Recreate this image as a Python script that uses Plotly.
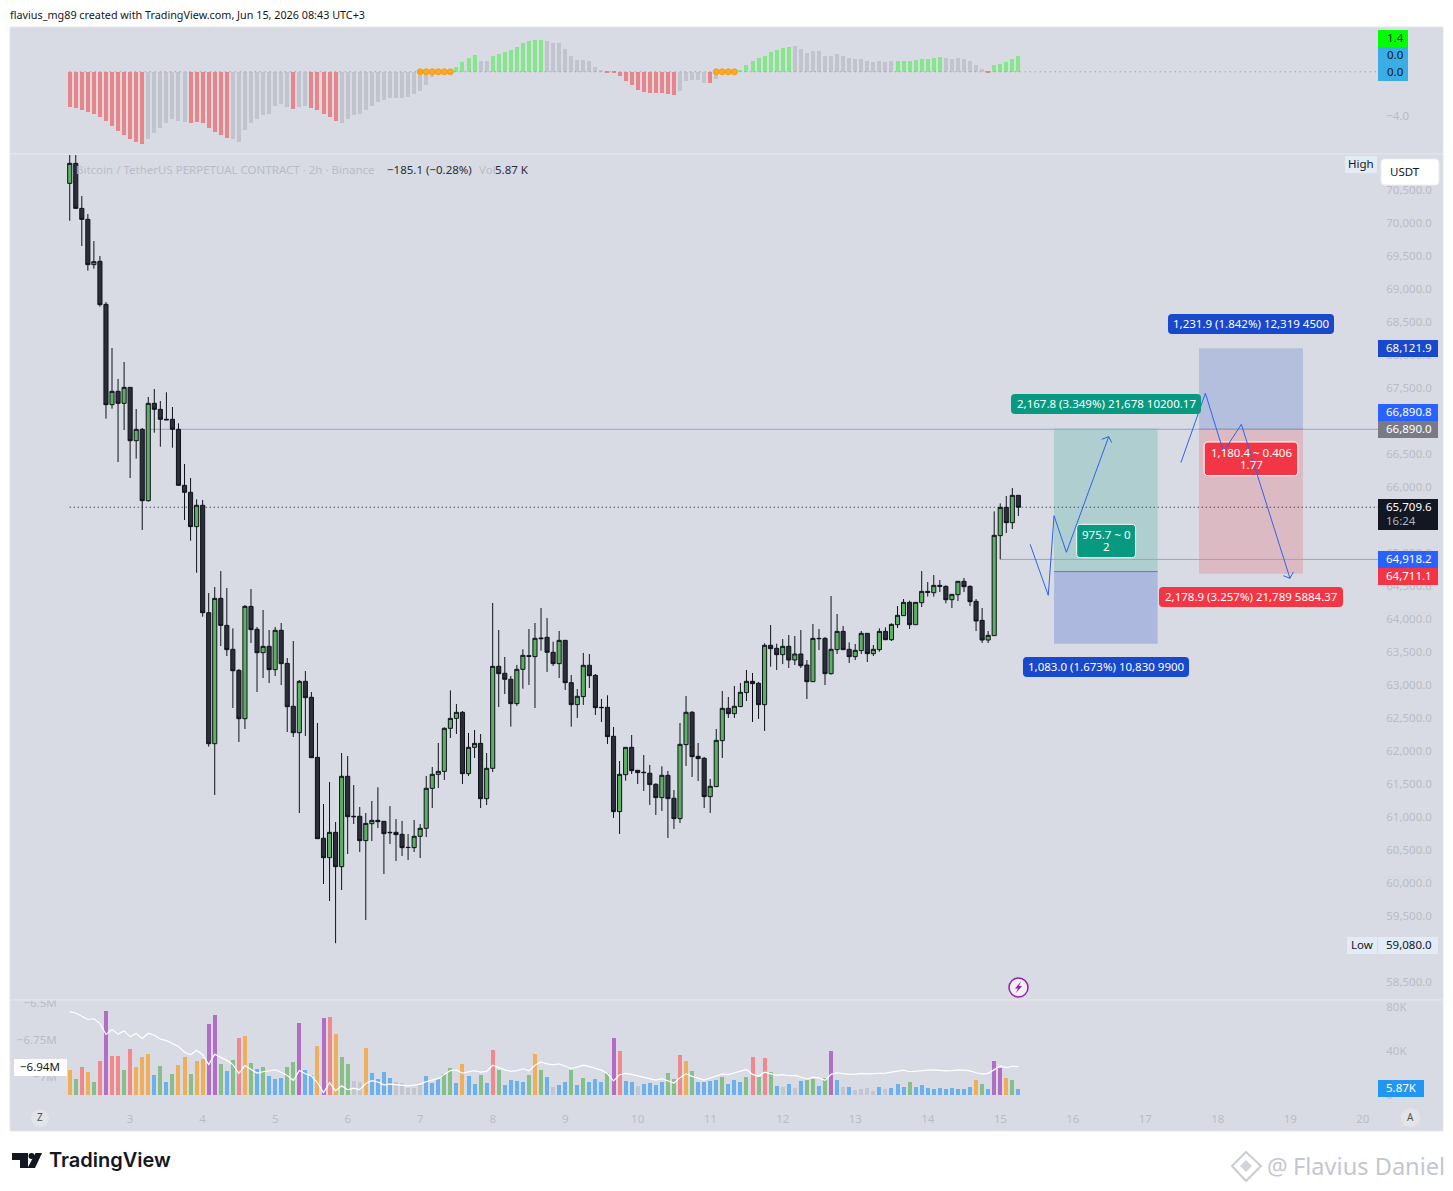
# -*- coding: utf-8 -*-
# --------------------------------------------------------------- #
#### Importing Libraries ####
# --------------------------------------------------------------- #
import pandas as pd
import plotly.graph_objects as go

# --------------------------------------------------------------- #
#### Chart values ####
# --------------------------------------------------------------- #
opens = [70593, 70896, 70214, 70048, 69361, 69412, 68760, 67240, 67442, 67260,
         67502, 66694, 66866, 65785, 67260, 67169, 67018, 67018, 66866, 66018,
         65912, 65392, 65715, 64088, 62103, 64305, 63896, 63533, 63214, 62482,
         64184, 63836, 63482, 63578, 63225, 63821, 63320, 62670, 62270, 63048,
         62806, 61896, 60670, 60376, 60760, 60240, 61609, 61003, 61003, 60634,
         60891, 60942, 60927, 60760, 60760, 60730, 60533, 60528, 60700, 60821,
         61427, 61639, 61684, 62336, 62487, 62578, 61649, 62048, 62108, 61270,
         61730, 63275, 63170, 63079, 62710, 63230, 63437, 63422, 63705, 63715,
         63488, 63316, 63669, 63028, 62695, 62816, 63291, 63139, 62654, 62654,
         62215, 61074, 61634, 62048, 61700, 61670, 61655, 61488, 61286, 61624,
         61276, 60968, 62089, 62579, 61912, 61882, 61301, 61453, 62149, 62639,
         62558, 62665, 62877, 63048, 63018, 62695, 63594, 63548, 63452, 63578,
         63371, 63462, 63295, 63043, 63699, 63699, 63164, 63528, 63805, 63533,
         63422, 63513, 63775, 63467, 63528, 63805, 63679, 63906, 64043, 64245,
         63906, 64240, 64411, 64391, 64502, 64487, 64285, 64361, 64563, 64487,
         64260, 63972, 63674, 63740, 65255, 65684, 65452, 65866]
closes = [70896, 70214, 70048, 69361, 69406, 68755, 67240, 67442, 67260, 67502,
          66694, 66866, 65785, 67260, 67169, 67018, 67010, 66866, 66018, 65912,
          65392, 65715, 64088, 62103, 64305, 63896, 63528, 63209, 62482, 64184,
          63831, 63482, 63578, 63225, 63821, 63316, 62664, 62270, 63048, 62800,
          61891, 60664, 60376, 60760, 60240, 61609, 60997, 60997, 60634, 60896,
          60942, 60922, 60740, 60755, 60725, 60528, 60530, 60700, 60821, 61427,
          61639, 61684, 62336, 62487, 62578, 61649, 62048, 62108, 61270, 61730,
          63275, 63164, 63079, 62710, 63230, 63442, 63427, 63700, 63695, 63488,
          63316, 63669, 63028, 62695, 62821, 63291, 63134, 62649, 62650, 62210,
          61074, 61639, 62048, 61695, 61665, 61665, 61483, 61286, 61624, 61271,
          60968, 62094, 62579, 61907, 61877, 61301, 61458, 62154, 62639, 62558,
          62670, 62882, 63048, 63013, 62695, 63594, 63543, 63452, 63578, 63371,
          63462, 63285, 63043, 63699, 63695, 63164, 63533, 63805, 63528, 63422,
          63518, 63775, 63467, 63533, 63805, 63679, 63911, 64048, 64245, 63906,
          64245, 64411, 64396, 64502, 64487, 64285, 64366, 64563, 64482, 64255,
          63962, 63674, 63745, 65260, 65684, 65452, 65866, 65686]
highs = [71200, 71200, 70401, 70128, 69719, 69492, 68795, 68098, 67629, 67886,
         67502, 67174, 66886, 67356, 67477, 67295, 67427, 67204, 66957, 66341,
         66129, 65806, 65796, 64386, 64477, 64719, 64462, 63851, 63235, 64204,
         64447, 63871, 64129, 63826, 63871, 63932, 63401, 63659, 63068, 63204,
         62886, 62417, 61189, 61523, 60917, 61962, 61917, 61477, 61144, 61053,
         61235, 61442, 60927, 61159, 60962, 60932, 60735, 60947, 60886, 61614,
         61750, 62114, 62351, 62911, 62704, 62598, 62265, 62310, 62250, 61962,
         64235, 63826, 63417, 63129, 63296, 63533, 63841, 63932, 64159, 64008,
         63649, 63811, 63669, 63144, 62932, 63478, 63462, 63159, 62781, 62836,
         62356, 61841, 62048, 62235, 61700, 61932, 61781, 61503, 61761, 61690,
         61402, 62417, 62826, 62599, 62114, 61902, 61569, 62326, 62902, 62811,
         62978, 63023, 63220, 63175, 63038, 63624, 63901, 63618, 63689, 63750,
         63735, 63826, 63371, 63916, 63841, 63719, 64341, 64068, 63886, 63639,
         63614, 63810, 63775, 63598, 63851, 63866, 63926, 64189, 64295, 64270,
         64245, 64719, 64553, 64659, 64583, 64502, 64366, 64563, 64613, 64502,
         64295, 64159, 63810, 65623, 65744, 65856, 65977, 65866]
lows = [70027, 70214, 69644, 69270, 69300, 68725, 67028, 67179, 66371, 66856,
        66129, 66422, 65341, 65770, 66816, 66603, 67010, 66588, 66018, 65492,
        65179, 64694, 64028, 62058, 61326, 63583, 63432, 62644, 62129, 62326,
        63629, 62886, 63098, 63023, 63129, 62992, 62280, 62205, 61053, 62220,
        61891, 60664, 59977, 59720, 59080, 59886, 60432, 60886, 60462, 59432,
        60629, 60826, 60129, 60583, 60326, 60402, 60341, 60462, 60371, 60689,
        61129, 61432, 61553, 62189, 62250, 61492, 61614, 61886, 61129, 61174,
        61674, 62659, 62856, 62362, 62675, 62937, 62993, 62644, 63513, 63190,
        63281, 63099, 62917, 62362, 62493, 62690, 62947, 62538, 62432, 62099,
        60978, 60735, 61543, 61644, 61493, 61387, 61175, 61023, 61084, 60675,
        60811, 60902, 61766, 61599, 61538, 61129, 61054, 61450, 61887, 62493,
        62493, 62660, 62750, 62432, 62478, 62296, 63270, 63220, 63310, 63250,
        63295, 63250, 62780, 63040, 63522, 62992, 63149, 63462, 63528, 63326,
        63371, 63462, 63341, 63432, 63497, 63679, 63659, 63856, 64040, 63841,
        63906, 64174, 64331, 64331, 64401, 64230, 64159, 64265, 64401, 64189,
        63810, 63629, 63629, 63738, 64896, 65295, 65356, 65553]

# squeeze momentum histogram and its colour class per bar
momentum = [-3.18, -3.27, -3.45, -3.64, -3.82, -4.09, -4.45, -4.91, -5.36, -5.73,
            -6.09, -6.36, -6.55, -6.09, -5.55, -5.09, -4.64, -4.27, -4.45, -4.55,
            -4.64, -4.55, -4.64, -5.09, -5.45, -5.73, -6.00, -6.09, -6.36, -5.27,
            -4.64, -4.27, -3.91, -3.82, -3.09, -2.91, -3.18, -3.36, -3.18, -3.09,
            -3.27, -3.45, -3.82, -4.09, -4.45, -4.64, -4.27, -3.91, -3.82, -3.45,
            -3.09, -2.73, -2.55, -2.36, -2.36, -2.36, -2.27, -2.00, -1.73, -1.18,
            -0.45, 0.05, 0.08, 0.12, 0.45, 0.91, 1.27, 1.55, 1.00, 1.00,
            1.45, 1.64, 1.82, 2.00, 2.27, 2.64, 2.82, 2.91, 2.91, 2.82,
            2.64, 2.58, 2.03, 1.39, 1.03, 1.03, 0.94, 0.48, 0.12, -0.06,
            -0.06, -0.42, -0.88, -1.24, -1.61, -1.88, -1.97, -1.97, -1.97, -2.06,
            -2.15, -1.70, -0.88, -0.79, -0.79, -1.06, -1.06, -0.70, 0.05, 0.05,
            0.08, 0.12, 0.58, 0.94, 1.21, 1.48, 1.76, 1.94, 2.12, 2.21,
            2.30, 2.03, 1.67, 1.85, 1.85, 1.48, 1.48, 1.58, 1.39, 1.21,
            1.12, 1.12, 0.94, 0.85, 0.94, 0.85, 0.94, 0.94, 0.94, 0.94,
            1.03, 1.12, 1.12, 1.21, 1.30, 1.21, 1.12, 1.21, 1.12, 0.94,
            0.58, 0.21, -0.06, 0.58, 0.67, 0.85, 1.12, 1.48]
momentum_kind = ("rrrrrrrrrr" "rrrxxxxxxx" "rrrrrrrxxx" "xxxxxxxrxx" "rrrrrxxxxx"
                 "xxxxxxxxxx" "xgggggggxx" "gggggggggx" "xxxxxxxxxr" "rrrrrrrrrr"
                 "rxxxxxrxgg" "gggggggggg" "xxxxxxxxxx" "xxxxxxxggg" "gggggxxxxx"
                 "xxrggggg")
squeeze_bars = [58, 59, 60, 61, 62, 63, 107, 108, 109, 110]

# volume in thousands and its colour class per bar
volume = [22.7, 14.5, 25.5, 20.9, 11.8, 30.9, 76.4, 35.5, 35.5, 22.7,
          41.8, 25.5, 34.5, 37.3, 18.2, 26.4, 11.8, 19.1, 27.3, 34.5,
          19.1, 30.9, 32.7, 64.5, 72.7, 28.2, 21.8, 31.8, 51.8, 53.6,
          29.1, 23.6, 25.5, 17.3, 14.5, 15.5, 25.5, 30.0, 65.4, 22.7,
          18.2, 44.5, 70.0, 70.9, 55.4, 34.5, 28.2, 12.7, 11.8, 42.7,
          20.0, 14.5, 20.9, 15.5, 11.8, 10.9, 6.4, 6.4, 9.1, 17.3,
          10.9, 14.5, 19.1, 24.5, 10.9, 28.2, 17.3, 10.0, 18.2, 10.9,
          40.9, 22.7, 9.1, 13.6, 12.7, 11.8, 18.2, 37.3, 22.7, 16.4,
          7.3, 9.1, 11.8, 22.7, 9.1, 15.5, 11.8, 14.5, 11.8, 20.0,
          51.8, 40.0, 12.7, 11.8, 8.2, 10.0, 10.9, 9.1, 11.8, 20.0,
          14.5, 36.4, 30.9, 21.8, 11.8, 11.8, 12.7, 13.6, 16.4, 10.0,
          13.6, 11.8, 16.4, 34.5, 16.4, 33.6, 20.9, 8.2, 7.3, 10.0,
          6.4, 12.7, 13.6, 14.5, 8.2, 15.5, 40.0, 13.6, 7.3, 7.3,
          4.5, 5.5, 6.4, 3.6, 7.3, 5.5, 6.4, 10.0, 7.3, 11.8,
          7.3, 9.1, 6.4, 5.5, 6.4, 5.5, 6.4, 5.5, 5.5, 7.3,
          13.6, 10.0, 5.5, 30.9, 24.5, 15.5, 13.6, 5.87]
volume_kind = ("ogrogrprrg" "rooobgbgoo" "gooppgbgro" "gbgbbbggpb" "boproggxxo"
               "bbbbxxxxxb" "bbggbobbgb" "rgbbbbgogb" "xbbgbgbbbg" "prbbxbbbbg"
               "grogbbbbgb" "bbgrgrgbxb" "xbggbgpbxb" "xxxxbxbbbg" "bbbbbbbbbb"
               "ogbppogb")

# white line of the lower pane, in millions
flow = [-6.558, -6.567, -6.589, -6.611, -6.606, -6.637, -6.712, -6.679, -6.710, -6.688,
        -6.728, -6.706, -6.739, -6.704, -6.717, -6.743, -6.754, -6.772, -6.794, -6.832,
        -6.849, -6.819, -6.849, -6.916, -6.845, -6.867, -6.887, -6.916, -6.975, -6.922,
        -6.949, -6.973, -6.964, -6.960, -6.951, -6.967, -6.989, -7.022, -6.956, -6.978,
        -6.993, -7.037, -7.106, -7.037, -7.093, -7.059, -7.086, -7.075, -7.084, -7.044,
        -7.024, -7.033, -7.053, -7.048, -7.053, -7.059, -7.059, -7.055, -7.048, -7.031,
        -7.022, -7.011, -6.982, -6.956, -6.953, -6.973, -6.964, -6.956, -6.967, -6.962,
        -6.920, -6.938, -6.951, -6.962, -6.956, -6.944, -6.958, -6.920, -6.898, -6.911,
        -6.918, -6.911, -6.925, -6.942, -6.933, -6.920, -6.929, -6.942, -6.953, -6.978,
        -7.026, -6.984, -6.975, -6.982, -6.991, -7.000, -7.011, -7.020, -7.011, -7.026,
        -7.040, -7.004, -6.978, -6.995, -7.009, -7.020, -7.006, -6.993, -6.980, -6.984,
        -6.971, -6.962, -6.949, -6.982, -6.995, -6.967, -6.978, -6.989, -6.984, -6.991,
        -6.989, -7.002, -7.013, -7.000, -7.006, -7.022, -6.982, -6.971, -6.978, -6.982,
        -6.980, -6.975, -6.978, -6.978, -6.973, -6.973, -6.967, -6.958, -6.953, -6.964,
        -6.960, -6.953, -6.953, -6.951, -6.956, -6.958, -6.956, -6.951, -6.953, -6.958,
        -6.971, -6.980, -6.975, -6.947, -6.925, -6.936, -6.927, -6.929]

assert len(opens) == len(closes) == len(highs) == len(lows) == 158
assert len(momentum) == len(momentum_kind) == len(volume) == len(volume_kind) == len(flow) == 158

day_labels = ["3", "4", "5", "6", "7", "8", "9", "10", "11", "12",
              "13", "14", "15", "16", "17", "18", "19", "20"]
day_dates = ["2026-06-%02d" % int(d) for d in day_labels]
price_ticks = [58500, 59000, 59500, 60000, 60500, 61000, 61500, 62000, 62500, 63000, 63500,
               64000, 64500, 65000, 65500, 66000, 66500, 67000, 67500, 68000, 68500,
               69000, 69500, 70000, 70500]
volume_ticks = [0, 40, 80]
volume_tick_text = ["0", "40K", "80K"]
flow_ticks = [-6.5, -6.75, -7]
flow_tick_text = ["\u22126.5M", "\u22126.75M", "\u22127M"]

# levels as they sit against the tick labels of the picture
last_price = 65686
level_upper = 66867
level_lower = 64895

# long and short position tools
long_x = ["2026-06-15 17:48", "2026-06-17 04:06"]
long_top = 66879.0
long_entry = 64711.1
long_bottom = 63617.0
short_x = ["2026-06-17 17:48", "2026-06-19 04:12"]
short_top = 68094.0
short_entry = 66867.0
short_bottom = 64679.0

# stats boxes inside the two tools
long_stats_x = ["2026-06-16 01:18", "2026-06-16 20:48"]
long_stats_y = [64921, 65427]
short_stats_x = ["2026-06-17 19:30", "2026-06-19 02:30"]
short_stats_y = [66164, 66674]

# hand drawn projection paths
path_a_x = ["2026-06-15 09:54", "2026-06-15 15:54", "2026-06-15 17:48", "2026-06-15 21:54", "2026-06-16 11:54"]
path_a_y = [65124, 64351, 65558, 65003, 66755]
head_a_x = ["2026-06-16 09:36", "2026-06-16 11:54", "2026-06-16 12:54"]
head_a_y = [66715, 66755, 66664]
path_b_x = ["2026-06-17 11:48", "2026-06-17 19:54", "2026-06-18 01:54", "2026-06-18 07:48", "2026-06-18 23:54"]
path_b_y = [66361, 67412, 66527, 66942, 64609]
head_b_x = ["2026-06-18 21:42", "2026-06-18 23:54", "2026-06-19 01:00"]
head_b_y = [64649, 64609, 64705]

# --------------------------------------------------------------- #
#### Styles and page helpers ####
# --------------------------------------------------------------- #
W = 1453
H = 1191
FONT = "Noto Sans"
PANEL = "#d8dbe3"
FADED = "#b9bcc6"
SEPARATOR = "#e6e8ec"
UP_FILL = "#5cb064"
DOWN_FILL = "#2a2e39"
WICK = "#10131a"
BLUE_LINE = "#8ea6dc"
ARROW = "#2f62e8"

momentum_colors = {"r": "#e98589", "x": "#c1c4cd", "g": "#84e88a"}
volume_colors = {"p": "#b26ec4", "r": "#f0888c", "o": "#f0ae58",
                 "g": "#86bf88", "b": "#6bb1ee", "x": "#c3c6d0"}

dates = pd.date_range("2026-06-02 04:00", periods=158, freq="2h")
bar_width = 4 / 3.021 * 3600000
x_start = "2026-06-01 08:14"
x_end = "2026-06-20 05:42"

shapes = []
notes = []


def fx(px):
    return px / W


def fy(py):
    return 1 - py / H


def box(x0, y0, x1, y1, color, radius=0, line=None, layer="above"):
    # rounded rectangle placed in page pixels
    if radius:
        r = radius
        pts = [("M", x0 + r, y0), ("L", x1 - r, y0), ("Q", x1, y0, x1, y0 + r),
               ("L", x1, y1 - r), ("Q", x1, y1, x1 - r, y1), ("L", x0 + r, y1),
               ("Q", x0, y1, x0, y1 - r), ("L", x0, y0 + r), ("Q", x0, y0, x0 + r, y0)]
        d = ""
        for p in pts:
            if p[0] == "Q":
                d += "Q%.5f,%.5f %.5f,%.5f " % (fx(p[1]), fy(p[2]), fx(p[3]), fy(p[4]))
            else:
                d += "%s%.5f,%.5f " % (p[0], fx(p[1]), fy(p[2]))
        shapes.append(dict(type="path", path=d + "Z", xref="paper", yref="paper", fillcolor=color,
                           line=dict(width=0 if line is None else 1, color=line or color), layer=layer))
    else:
        shapes.append(dict(type="rect", xref="paper", yref="paper", x0=fx(x0), x1=fx(x1), y0=fy(y0), y1=fy(y1),
                           fillcolor=color, line=dict(width=0 if line is None else 1, color=line or color), layer=layer))


def label(x, y, text, color="#ffffff", size=11.5, anchor="center", family=FONT, weight=None):
    font = dict(family=family, size=size, color=color)
    if weight:
        font["weight"] = weight
    notes.append(dict(xref="paper", yref="paper", x=fx(x), y=fy(y - 0.7), text=text, showarrow=False,
                      xanchor=anchor, yanchor="middle", align=anchor, borderpad=0, borderwidth=0,
                      font=font))


def poly(points, color, width=0, line=None):
    d = "M" + " L".join("%.5f,%.5f" % (fx(p[0]), fy(p[1])) for p in points) + " Z"
    shapes.append(dict(type="path", path=d, xref="paper", yref="paper", fillcolor=color,
                       line=dict(width=width, color=line or color), layer="above"))


def data_rect(xs, y0, y1, color, line=None):
    shapes.append(dict(type="rect", xref="x", yref="y", x0=xs[0], x1=xs[1], y0=y0, y1=y1, fillcolor=color,
                       line=dict(width=0 if line is None else 1, color=line or color), layer="below"))


def data_rounded(xs, ys, color):
    # white edged stats box, 4px corners are about 80 minutes and 60 points
    t0 = pd.Timestamp(xs[0])
    t1 = pd.Timestamp(xs[1])
    dt = pd.Timedelta(minutes=80)
    r = 60

    def s(t):
        return t.strftime("%Y-%m-%d_%H:%M:%S")

    d = "M%s,%s L%s,%s Q%s,%s %s,%s L%s,%s Q%s,%s %s,%s L%s,%s Q%s,%s %s,%s L%s,%s Q%s,%s %s,%s Z" % (
        s(t0 + dt), ys[1], s(t1 - dt), ys[1], s(t1), ys[1], s(t1), ys[1] - r,
        s(t1), ys[0] + r, s(t1), ys[0], s(t1 - dt), ys[0],
        s(t0 + dt), ys[0], s(t0), ys[0], s(t0), ys[0] + r,
        s(t0), ys[1] - r, s(t0), ys[1], s(t0 + dt), ys[1])
    shapes.append(dict(type="path", path=d, xref="x", yref="y", fillcolor=color,
                       line=dict(width=1, color="#ffffff"), layer="below"))


def data_level(x0, y, color, dash="solid", x1=x_end):
    shapes.append(dict(type="line", xref="x", yref="y", x0=x0, x1=x1, y0=y, y1=y,
                       line=dict(width=1, color=color, dash=dash), layer="below"))


# --------------------------------------------------------------- #
#### Background, panes and drawing tools ####
# --------------------------------------------------------------- #
box(10, 27, 1443, 1131, PANEL, line="#e4e6ea", layer="below")
shapes.append(dict(type="line", xref="paper", yref="paper", x0=fx(10), x1=fx(1443), y0=fy(154), y1=fy(154),
                   line=dict(width=1, color=SEPARATOR), layer="above"))

data_rect(long_x, long_entry, long_top, "rgba(8,153,129,0.20)")
data_rect(long_x, long_bottom, long_entry, "rgba(41,78,205,0.25)")
data_rect(short_x, short_entry, short_top, "rgba(41,78,205,0.20)")
data_rect(short_x, short_bottom, short_entry, "rgba(242,54,69,0.20)")
data_level(long_x[0], long_entry, "#787b86", x1=long_x[1])
data_level(short_x[0], short_entry, "#787b86", x1=short_x[1])
data_level(dates[13], level_upper, BLUE_LINE)
data_level(dates[154], level_lower, BLUE_LINE)
data_level(dates[0], last_price, "#131722", dash="1px,3px")

data_rounded(long_stats_x, long_stats_y, "#089981")
data_rounded(short_stats_x, short_stats_y, "#f23645")
label(1106, 535, "975.7 ~ 0")
label(1106, 547, "2")
label(1251, 453, "1,180.4 ~ 0.406")
label(1251, 465, "1.77")

box(1011, 394, 1201, 414, "#089981", radius=4)
label(1106, 404, "2,167.8 (3.349%) 21,678 10200.17")
box(1168, 314, 1334, 334, "#1848cc", radius=4)
label(1251, 324, "1,231.9 (1.842%) 12,319 4500")
box(1023, 657, 1189, 677, "#1848cc", radius=4)
label(1106, 667, "1,083.0 (1.673%) 10,830 9900")
box(1159, 587, 1343, 607, "#f23645", radius=4)
label(1251, 597, "2,178.9 (3.257%) 21,789 5884.37")

# --------------------------------------------------------------- #
#### Tags on the axes ####
# --------------------------------------------------------------- #
box(1378, 30, 1408, 47, "#00ff00")
label(1395, 38.5, "1.4", color="#131722")
box(1378, 47, 1408, 81, "#3aaee4")
label(1395, 55.5, "0.0", color="#131722")
label(1395, 72.5, "0.0", color="#131722")

box(1345, 156, 1377, 173, "#e3ebf7")
label(1361, 164, "High", color="#131722")
box(1381, 159, 1439, 185, "#ffffff", radius=4, line="#eceef2")
label(1390, 172, "USDT", color="#131722", anchor="left")

box(1378, 340, 1438, 357, "#1848cc")
label(1386, 348.5, "68,121.9", anchor="left")
box(1378, 404, 1438, 421, "#2962ff")
label(1386, 412.5, "66,890.8", anchor="left")
box(1378, 421, 1438, 438, "#787b86")
label(1386, 429.5, "66,890.0", anchor="left")
box(1378, 499, 1438, 530, "#131722")
label(1386, 507, "65,709.6", anchor="left")
label(1386, 521, "16:24", color="#b2b5be", anchor="left")
box(1378, 551, 1438, 568, "#2962ff")
label(1386, 559, "64,918.2", anchor="left")
box(1378, 568, 1438, 585, "#f23645")
label(1386, 576, "64,711.1", anchor="left")
box(1347, 937, 1377, 954, "#e3ebf7")
label(1362, 945.5, "Low", color="#131722")
box(1378, 937, 1438, 954, "#e3ebf7")
label(1386, 945, "59,080.0", color="#131722", anchor="left")
box(1378, 1080, 1424, 1097, "#2196f3")
label(1386, 1088.5, "5.87K", anchor="left")
box(14, 1059, 67, 1076, "#ffffff")
label(60, 1067.5, "\u22126.94M", color="#131722", anchor="right")

# top of the lower pane cuts its first label
box(14, 990, 66, 1000, PANEL)
shapes.append(dict(type="line", xref="paper", yref="paper", x0=fx(10), x1=fx(1443), y0=fy(1000), y1=fy(1000),
                   line=dict(width=1, color=SEPARATOR), layer="above"))

# --------------------------------------------------------------- #
#### Loose text, logo and watermark ####
# --------------------------------------------------------------- #
label(10, 15.7, "flavius_mg89 created with TradingView.com, Jun 15, 2026 08:43 UTC+3", color="#131722", size=10.8, anchor="left")
label(76, 170, "Bitcoin / TetherUS PERPETUAL CONTRACT \u00b7 2h \u00b7 Binance", color=FADED, size=11.5, anchor="left")
label(387, 170, "\u2212185.1 (\u22120.28%)", color="#2a2e39", size=11.5, anchor="left")
label(479, 170, "Vol", color=FADED, size=11.5, anchor="left")
label(495, 170, "5.87 K", color="#2a2e39", size=11.5, anchor="left")

shapes.append(dict(type="circle", xref="paper", yref="paper", x0=fx(31), x1=fx(49), y0=fy(1109), y1=fy(1127),
                   fillcolor="#e2e4e9", line=dict(width=0), layer="above"))
label(40, 1118, "Z", color="#50535e", size=10)
shapes.append(dict(type="circle", xref="paper", yref="paper", x0=fx(1401), x1=fx(1420), y0=fy(1108), y1=fy(1127),
                   fillcolor="#e2e4e9", line=dict(width=0), layer="above"))
label(1410.5, 1118, "A", color="#50535e", size=10)

shapes.append(dict(type="circle", xref="paper", yref="paper", x0=fx(1009), x1=fx(1028), y0=fy(978), y1=fy(997),
                   fillcolor="#f4eef6", line=dict(width=1.5, color="#8e24aa"), layer="above"))
poly([(1021, 981.5), (1015, 988.5), (1018, 988.5), (1016, 993), (1022, 986), (1019, 986)], "#8e24aa")

poly([(12, 1153), (28, 1153), (28, 1168), (20, 1168), (20, 1160), (12, 1160)], "#131722")
shapes.append(dict(type="circle", xref="paper", yref="paper", x0=fx(28.5), x1=fx(34.5), y0=fy(1153), y1=fy(1159),
                   fillcolor="#131722", line=dict(width=0), layer="above"))
poly([(35.5, 1153), (42, 1153), (35, 1168), (27.5, 1168)], "#131722")
label(48.5, 1161, "TradingView", color="#131722", size=20, anchor="left", family="Inter", weight=600)

label(1267, 1167, "@", color="#c4c7cf", size=23, anchor="left", family="Noto Sans")
label(1293, 1167, "Flavius Daniel", color="#c4c7cf", size=23.6, anchor="left", family="Noto Sans")
poly([(1246, 1152), (1261, 1166), (1246, 1181), (1232, 1166)], "rgba(0,0,0,0)", width=2, line="#c9ccd4")
poly([(1246, 1160), (1252, 1166), (1246, 1172), (1240, 1166)], "#d2d4db")

# --------------------------------------------------------------- #
#### Traces ####
# --------------------------------------------------------------- #
fig = go.Figure()

fig.add_trace(go.Candlestick(
    x=dates, open=opens, high=highs, low=lows, close=closes,
    increasing=dict(fillcolor=UP_FILL, line=dict(color=WICK, width=1)),
    decreasing=dict(fillcolor=DOWN_FILL, line=dict(color=WICK, width=1)),
    whiskerwidth=0, yaxis="y", xaxis="x", showlegend=False))

fig.add_trace(go.Scatter(x=path_a_x, y=path_a_y, mode="lines", line=dict(color=ARROW, width=1), yaxis="y", showlegend=False))
fig.add_trace(go.Scatter(x=head_a_x, y=head_a_y, mode="lines", line=dict(color=ARROW, width=1), yaxis="y", showlegend=False))
fig.add_trace(go.Scatter(x=path_b_x, y=path_b_y, mode="lines", line=dict(color=ARROW, width=1), yaxis="y", showlegend=False))
fig.add_trace(go.Scatter(x=head_b_x, y=head_b_y, mode="lines", line=dict(color=ARROW, width=1), yaxis="y", showlegend=False))

fig.add_trace(go.Bar(x=dates, y=momentum, width=bar_width, yaxis="y2", showlegend=False,
                     marker=dict(color=[momentum_colors[k] for k in momentum_kind], line=dict(width=0))))
fig.add_trace(go.Scatter(x=[dates[0], x_end], y=[0, 0], mode="lines", yaxis="y2", showlegend=False,
                         line=dict(color="#8a8d97", width=1, dash="1px,4px")))
fig.add_trace(go.Scatter(x=[dates[i] for i in squeeze_bars], y=[0 for i in squeeze_bars], mode="markers", yaxis="y2", showlegend=False,
                         marker=dict(color="#ffa726", size=6, line=dict(width=1, color="#f59d10"))))

fig.add_trace(go.Bar(x=dates, y=volume, width=bar_width, yaxis="y3", showlegend=False,
                     marker=dict(color=[volume_colors[k] for k in volume_kind], line=dict(width=0))))
fig.add_trace(go.Scatter(x=dates, y=flow, mode="lines", yaxis="y4", showlegend=False,
                         line=dict(color="#ffffff", width=1.2)))

# --------------------------------------------------------------- #
#### Layout ####
# --------------------------------------------------------------- #
tick_font = dict(family=FONT, size=11.5, color=FADED)

fig.update_layout(
    width=W, height=H, margin=dict(l=0, r=0, t=0, b=0),
    paper_bgcolor="#ffffff", plot_bgcolor="rgba(0,0,0,0)",
    showlegend=False, bargap=0, boxgap=0.2, boxgroupgap=0.15, hovermode=False,
    shapes=shapes, annotations=notes,
    xaxis=dict(domain=[fx(10), fx(1380)], range=[x_start, x_end], anchor="y3", type="date", automargin=False,
               tickvals=day_dates, ticktext=day_labels, tickfont=tick_font, showgrid=False, zeroline=False,
               showline=False, ticks="outside", ticklen=8, tickcolor="rgba(0,0,0,0)",
               rangeslider=dict(visible=False)),
    yaxis=dict(domain=[fy(1000), fy(155)], range=[58219.7, 71022.7], anchor="x", side="right", automargin=False,
               tickvals=price_ticks, tickformat=",.1f", tickfont=tick_font, showgrid=False, zeroline=False,
               ticks="outside", ticklen=3, tickcolor="rgba(0,0,0,0)"),
    yaxis2=dict(domain=[fy(154), fy(27)], range=[-7.47, 4.07], anchor="x", side="right", automargin=False,
                tickvals=[-4.0], tickformat=".1f", tickfont=tick_font, showgrid=False, zeroline=False,
                ticks="outside", ticklen=3, tickcolor="rgba(0,0,0,0)"),
    yaxis3=dict(domain=[fy(1100), fy(1001)], range=[-4.55, 85.45], anchor="x", side="right", automargin=False,
                tickvals=volume_ticks, ticktext=volume_tick_text, tickfont=tick_font, showgrid=False, zeroline=False,
                ticks="outside", ticklen=3, tickcolor="rgba(0,0,0,0)"),
    yaxis4=dict(range=[-7.155, -6.486], overlaying="y3", anchor="free", position=fx(62), side="left", automargin=False,
                tickvals=flow_ticks, ticktext=flow_tick_text, tickfont=tick_font, showgrid=False, zeroline=False,
                ticks="outside", ticklen=3, tickcolor="rgba(0,0,0,0)"),
)

fig.write_html("out.html", config={"displayModeBar": False}, post_script="document.body.style.margin='0';")
